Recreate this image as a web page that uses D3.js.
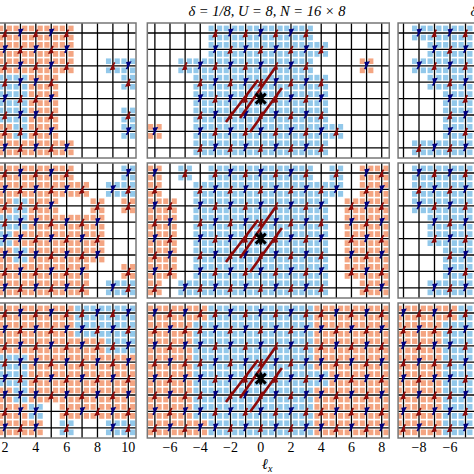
<!DOCTYPE html>
<html><head><meta charset="utf-8">
<script src="https://cdn.jsdelivr.net/npm/d3@7"></script>
<style>body{margin:0;background:#fff}</style></head>
<body><svg id="c" width="474" height="474"></svg>
<script>
// --- data ---
const titles = ["δ = 1/8, U = 8, N = 20 × 8", "δ = 1/8, U = 8, N = 16 × 8", "δ = 1/8, U = 8, N = 24 × 8"];
const colStart = [2, -7, -9];
const leftTicks = [2, 4, 6, 8, 10];
const midTicks = [-6, -4, -2, 0, 2, 4, 6, 8];
const rightTicks = [-8, -6];
const leftPanels = [
 ["rrrrr....","rrrrr....","rrrrr..bb","bbrr....b","bbrr.....","bbrr....b","rbrr....b","rrrrr...."],
 ["rrrrr...b","rrrrrr.bb","rbrr..r.r","bbrrrrr..","brrrrrr..","rbrrrrr..","rrrrrr..r","rrrrrr.bb"],
 ["rrrrrbbbb","rrrrrbbbb","rrrrrrrbb","bbrrrrrrr","bbrrrrrrr","rbrrrrrrr","rrb.rrrrr","rrr.b..bb"]];
const midPanels = [
 ["....bbbbbbb.....","....bbbbbbbb....","..bbbbbbbbb...r.","...bbbbbbbbb....","...bbbbbbbbb....","...bbbbbbbbb....","r..bbbbbbbbbb...","...bbbbbbbbb...."],
 ["r.b.bbbbbbb.b.rr","r..bbbbbbbbbb.rr","rr.bbbbbbbbb.rrr","rr.bbbbbbbbb.rrr","rr.bbbbbbbbb.rrr","rr.bbbbbbbbb.rrr","rr.bbbbbbbbb.rrr","r.bbbbbbbbbb..rr"],
 ["rrrrbbbbbbbrrrrr","rrrbbbbbbbbrrrrr","rrrbbbbbbbbrrrrr","rrrbbbbbbbbrrrrr","rrrbbbbbbbbbrrrr","rrrbbbbbbbbrrrrr","rrrbbbbbbbbrrrrr","rrrrbbbbbbbrrrrr"]];
const rightPanels = [
 [".bbbb","..bbb",".bbbb","..bbb","...bb","...bb","...bb",".bbbb"],
 [".bbbb",".bbbb",".bbbb","..bbb","..bbb","...bb","...bb","..bbb"],
 ["rrrrb","rrrbb","rrrbb","rrrbb","rrrbb","rrrbb","rrrbb","rrrbb"]];
const stripes = [[[-2.3,5.43],[-0.18,2.87]], [[-1.37,5.18],[0.94,2.13]], [[-0.71,6.04],[1.4,3.35]]];
const holePos = [0, 4];

// --- drawing ---
const svg = d3.select("#c");
const RED="#f4a582", BLUE="#92c8ea", DRED="#8b0a0a", DBLUE="#00007f";
const rowTops = [23, 163, 303];
const cols = [
 {x: d3.scaleLinear().domain([2,10]).range([5,128.3]), lo:-9.5, hi:10.5, ticks:leftTicks, panels:leftPanels, start:colStart[0], title:titles[0], tx:-107},
 {x: d3.scaleLinear().domain([-6,8]).range([170,381.7]), lo:-7.5, hi:8.5, ticks:midTicks, panels:midPanels, start:colStart[1], title:titles[1], tx:267},
 {x: d3.scaleLinear().domain([-8,-6]).range([419,450]), lo:-9.35, hi:14.5, ticks:rightTicks, panels:rightPanels, start:colStart[2], title:titles[2], tx:549}
];
const defs = svg.append("defs");
const isUp = d => ((((d.c+d.r)%2)+2)%2===0) === (d.ch==="b");
cols.forEach((C,ci)=>{
  C.panels.forEach((P,ri)=>{
    const top=rowTops[ri];
    const y=d3.scaleLinear().domain([0,7]).range([top+10, top+10+7*16.4]);
    const x=C.x, u=Math.abs(x(1)-x(0)), v=16.4;
    const x0=x(C.lo), x1=x(C.hi), y0=top, y1=top+135;
    const id="cl"+ci+ri;
    defs.append("clipPath").attr("id",id).append("rect").attr("x",x0).attr("y",y0).attr("width",x1-x0).attr("height",y1-y0);
    const g=svg.append("g").attr("clip-path",`url(#${id})`);
    const sites=[];
    P.forEach((row,r)=>row.split("").forEach((ch,k)=>{ if(ch!==".") sites.push({c:C.start+k,r,ch}); }));
    g.selectAll("rect.s").data(sites).join("rect").attr("class","s")
      .attr("x",d=>x(d.c)-u*0.45).attr("y",d=>y(d.r)-v*0.45).attr("width",u*0.9).attr("height",v*0.9)
      .attr("fill",d=>d.ch==="r"?RED:BLUE);
    const vc=d3.range(Math.ceil(C.lo),Math.floor(C.hi)+1), hr=d3.range(0,8);
    [["#fff",3.4],["#000",1.3]].forEach(([col,w])=>{
      g.selectAll(null).data(vc).join("line").attr("x1",d=>x(d)).attr("x2",d=>x(d)).attr("y1",y0).attr("y2",y1).attr("stroke",col).attr("stroke-width",w);
      g.selectAll(null).data(hr).join("line").attr("y1",d=>y(d)).attr("y2",d=>y(d)).attr("x1",x0).attr("x2",x1).attr("stroke",col).attr("stroke-width",w);
    });
    g.selectAll("path.a").data(sites).join("path").attr("class","a")
      .attr("d",d=>{
        const s = isUp(d)?-1:1;
        const cx=x(d.c), cy=y(d.r), dx=1.8, dy=3.4*s;
        const tx=cx-dx*s, ty=cy+dy, bx=cx+dx*s, by=cy-dy;
        return `M${bx},${by}L${tx},${ty}M${tx},${ty}l${3*s},${-0.4*s}l${-1*s},${-3.4*s}Z`;
      })
      .attr("stroke",d=>isUp(d)?DBLUE:DRED).attr("fill",d=>isUp(d)?DBLUE:DRED)
      .attr("stroke-width",1.7);
    if(ci===1){
      g.selectAll(null).data(stripes).join("line")
        .attr("x1",d=>x(d[0][0])).attr("y1",d=>y(d[0][1])).attr("x2",d=>x(d[1][0])).attr("y2",d=>y(d[1][1]))
        .attr("stroke",DRED).attr("stroke-width",2.6);
      const hx=x(holePos[0]), hy=y(holePos[1]);
      g.append("path").attr("d",`M${hx-5},${hy-5}L${hx+5},${hy+5}M${hx+5},${hy-5}L${hx-5},${hy+5}M${hx},${hy-6}L${hx},${hy+6}`)
        .attr("stroke","#000").attr("stroke-width",3);
    }
    svg.append("rect").attr("x",x0).attr("y",y0).attr("width",x1-x0).attr("height",y1-y0)
      .attr("fill","none").attr("stroke","#777").attr("stroke-width",1.5);
    if(ri===2){
      svg.append("g").selectAll("text").data(C.ticks).join("text")
        .attr("x",d=>x(d)).attr("y",452).attr("text-anchor","middle")
        .attr("font-family","Liberation Serif").attr("font-size",14).text(d=>d<0?"−"+(-d):d);
    }
  });
  svg.append("text").attr("x",C.tx).attr("y",16).attr("text-anchor","middle")
    .attr("font-family","Liberation Serif").attr("font-style","italic").attr("font-size",14.5).text(C.title);
});
svg.append("text").attr("x",267).attr("y",469).attr("text-anchor","middle")
  .attr("font-family","Liberation Serif").attr("font-style","italic").attr("font-size",15).html("ℓ<tspan font-size='10' dy='3'>x</tspan>");
</script></body></html>
